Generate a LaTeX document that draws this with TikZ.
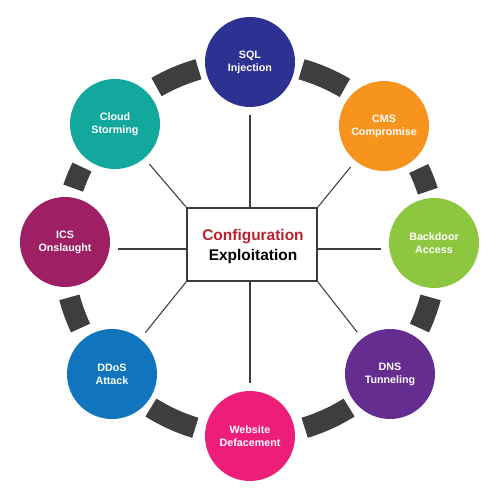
\documentclass[tikz,border=0pt]{standalone}
\usepackage{fontspec}
\setmainfont{Liberation Sans}
\definecolor{ringgray}{RGB}{62,62,62}
\definecolor{linkgray}{RGB}{60,60,60}
\definecolor{cfgred}{RGB}{190,30,45}
\definecolor{csql}{RGB}{45,49,146}
\definecolor{ccms}{RGB}{247,148,29}
\definecolor{cback}{RGB}{141,198,63}
\definecolor{cdns}{RGB}{102,45,145}
\definecolor{cweb}{RGB}{237,30,121}
\definecolor{cddos}{RGB}{16,117,188}
\definecolor{cics}{RGB}{158,31,99}
\definecolor{ccloud}{RGB}{19,168,158}
\begin{document}
\begin{tikzpicture}[x=0.02cm,y=0.02cm,
  bub/.style={circle,fill=#1,minimum size=1.8cm,inner sep=0pt,outer sep=0.16cm,text=white,
    font=\bfseries\fontsize{6.1}{7.5}\selectfont,align=center},
  ring/.style={line width=0.42cm,draw=ringgray,line cap=butt},
  link/.style={draw=linkgray,line width=0.6pt},
  centerbox/.style={draw=linkgray,line width=0.8pt,minimum width=2.6cm,minimum height=1.46cm,
    inner sep=0pt,align=center,font=\bfseries\fontsize{8.8}{11}\selectfont}]
\useasboundingbox (0,0) rectangle (500,500);
\coordinate (c) at (250,251);
% ring segments
\foreach \a/\b in {106/120,154/161,195/205,238/253,287/302,335/345,18/25.5,59.5/74}
  \draw[ring] (c) ++(\a:3.74cm) arc[start angle=\a,end angle=\b,radius=3.74cm];
% central box
\node[centerbox] (box) at (252,255.5) {};
\node[font=\bfseries\fontsize{8.8}{11}\selectfont,align=center,inner sep=0pt] (boxtext) at (253,253.5) {\textcolor{cfgred}{Configuration}\\Exploitation};
% bubbles
\node[bub=csql] (sql) at (250,438) {SQL\\Injection};
\node[bub=ccms] (cms) at (384,374) {CMS\\Compromise};
\node[bub=cback] (back) at (434,257) {Backdoor\\Access};
\node[bub=cdns] (dns) at (390,126) {DNS\\Tunneling};
\node[bub=cweb] (web) at (250,64) {Website\\Defacement};
\node[bub=cddos] (ddos) at (112,126) {DDoS\\Attack};
\node[bub=cics] (ics) at (65,258) {ICS\\Onslaught};
\node[bub=ccloud] (cloud) at (115,376) {Cloud\\Storming};
% links
\draw[link] (sql |- box.north) -- (sql);
\draw[link] (web |- box.south) -- (web);
\draw[link] (box.east |- c) -- (back.west |- c);
\draw[link] (box.west |- c) -- (ics.east |- c);
\draw[link] (box.north east) -- (cms);
\draw[link] (box.north west) -- (cloud);
\draw[link] (box.south east) -- (dns);
\draw[link] (box.south west) -- (ddos);
\end{tikzpicture}
\end{document}
